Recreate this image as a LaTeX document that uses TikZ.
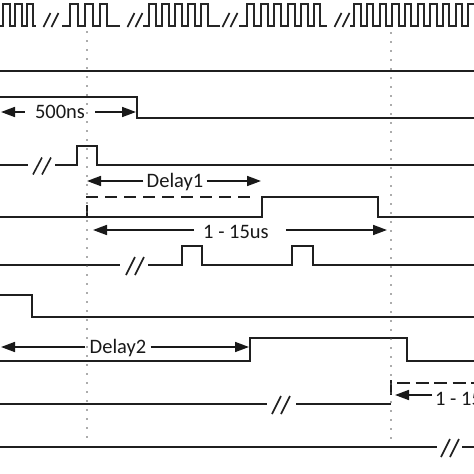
\documentclass[tikz,border=0pt]{standalone}
\usepackage{fontspec}
\setmainfont{Carlito}
\usetikzlibrary{arrows.meta}
\tikzset{
  sig/.style={line width=1.8pt, draw=black!88, line join=miter},
  clk/.style={line width=1.4pt, draw=black!85, line join=miter},
  brk/.style={line width=1.6pt, draw=black!88},
  dotline/.style={line width=1.6pt, draw=black!65, dash pattern=on 0pt off 9pt, line cap=round},
  dimarrow/.style={line width=1.7pt, draw=black!90, -{Triangle[length=14pt,width=10pt]}},
  lbl/.style={font=\fontsize{20.5}{22}\selectfont, fill=white, inner ysep=2pt, anchor=base, text=black!90},
  dashsig/.style={line width=1.8pt, draw=black!88, dash pattern=on 12pt off 7pt},
}
% double slash break: #1 = x centre, #2 = y centre, #3 = half height, #4 = half width of one slash, #5 = spacing
\newcommand\mybreak[5]{%
  \draw[brk] ({#1-#5/2-#4},{#2+#3}) -- ({#1-#5/2+#4},{#2-#3});
  \draw[brk] ({#1+#5/2-#4},{#2+#3}) -- ({#1+#5/2+#4},{#2-#3});
}
\begin{document}
\begin{tikzpicture}[x=1pt,y=-1pt]
\clip (0,0) rectangle (474,474);
\fill[white] (0,0) rectangle (474,474);

% ---------- clock ----------
\draw[clk] (0,26) \foreach \a/\b in {3/10,15/22,27/33} { -- (\a,26) -- (\a,4) -- (\b,4) -- (\b,26) } -- (36,26);
\mybreak{51}{20}{7}{3.5}{8}
\draw[clk] (62,26) \foreach \a/\b in {70/78,85/93,100/107} { -- (\a,26) -- (\a,4) -- (\b,4) -- (\b,26) } -- (120,26);
\mybreak{135}{20}{7}{3.5}{8}
\draw[clk] (143,26) \foreach \a/\b in {149/156,162/169,175/182,188/195,201/208} { -- (\a,26) -- (\a,4) -- (\b,4) -- (\b,26) } -- (220,26);
\mybreak{230}{20}{7}{3.5}{8}
\draw[clk] (239,26) \foreach \a/\b in {247/254,261/268,274/281,288/295,301/308,314/320} { -- (\a,26) -- (\a,4) -- (\b,4) -- (\b,26) } -- (327,26);
\mybreak{342}{20}{7}{3.5}{8}
\draw[clk] (350,26) \foreach \a/\b in {354/361,367/373,380/386,392/399,405/411,418/424,430/437,443/449,456/462,468/480} { -- (\a,26) -- (\a,4) -- (\b,4) -- (\b,26) };

% ---------- signals ----------
\draw[sig] (0,71) -- (474,71);
\draw[sig] (0,97) -- (137,97) -- (137,118) -- (474,118);

\draw[sig] (0,165) -- (28,165);
\mybreak{42}{166}{8.5}{4.5}{9}
\draw[sig] (55,165) -- (77,165) -- (77,146) -- (97,146) -- (97,165) -- (474,165);

\draw[dashsig] (87,217) -- (87,197) -- (257,197);
\draw[sig] (0,217) -- (262,217) -- (262,197) -- (378,197) -- (378,217) -- (474,217);

\draw[sig] (0,265) -- (120,265);
\mybreak{135}{266}{9}{4.5}{9}
\draw[sig] (148,265) -- (182,265) -- (182,246) -- (202,246) -- (202,265) -- (292,265) -- (292,246) -- (313,246) -- (313,265) -- (474,265);

\draw[sig] (0,295) -- (32,295) -- (32,317) -- (474,317);

\draw[sig] (0,361) -- (250,361) -- (250,338) -- (407,338) -- (407,361) -- (474,361);

\draw[sig] (0,404) -- (267,404);
\mybreak{281}{405}{9}{4.5}{9}
\draw[sig] (296,404) -- (391,404);
\draw[sig] (391,380) -- (391,395);
\draw[dashsig, dash pattern=on 13pt off 5.5pt] (397,383) -- (480,383);

\draw[sig] (0,447) -- (437,447);
\mybreak{450}{448}{9}{4.5}{9}
\draw[sig] (462,447) -- (474,447);

% ---------- dimension arrows ----------
\coordinate (ns-a) at (1,112);
\coordinate (ns-b) at (136,112);
\node[lbl, inner xsep=10pt] (ns) at (60,118) {500ns};
\draw[dimarrow] (ns.west |- ns-a) -- (ns-a);
\draw[dimarrow] (ns.east |- ns-b) -- (ns-b);

\coordinate (d1-a) at (87,181);
\coordinate (d1-b) at (261,181);
\node[lbl, inner xsep=3pt] (d1) at (175,187) {Delay1};
\draw[dimarrow] (d1.west |- d1-a) -- (d1-a);
\draw[dimarrow] (d1.east |- d1-b) -- (d1-b);

\coordinate (us-a) at (93,230);
\coordinate (us-b) at (387,230);
\node[lbl, inner xsep=9pt] (us) at (236,238) {1 - 15us};
\draw[dimarrow] (us.west |- us-a) -- (us-a);
\draw[dimarrow, shorten <=8pt] (us.east |- us-b) -- (us-b);

\coordinate (d2-a) at (1,347);
\coordinate (d2-b) at (249,347);
\node[lbl, inner xsep=4pt] (d2) at (118,353) {Delay2};
\draw[dimarrow] (d2.west |- d2-a) -- (d2-a);
\draw[dimarrow] (d2.east |- d2-b) -- (d2-b);

\coordinate (br-a) at (395,395);
\node[lbl, inner xsep=3pt, anchor=base west] (br) at (432,405) {1 - 15us};
\draw[dimarrow] (br.west |- br-a) -- (br-a);

% ---------- dotted markers ----------
\draw[dotline] (87,32) -- (87,443);
\draw[dotline] (391,33) -- (391,440);
\end{tikzpicture}
\end{document}
